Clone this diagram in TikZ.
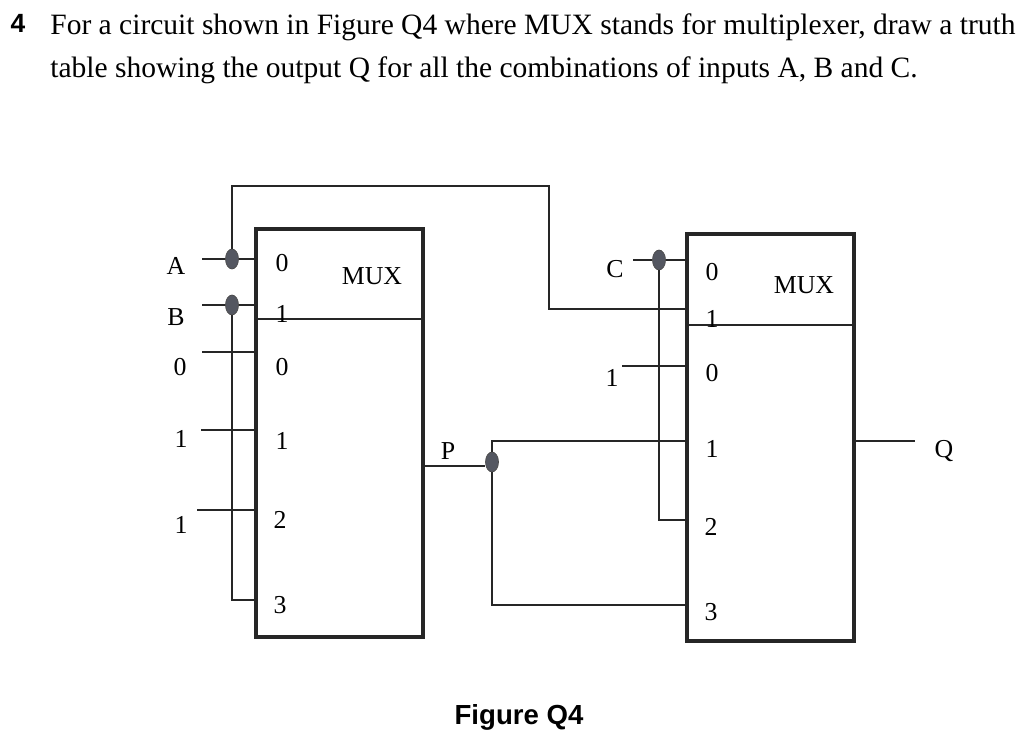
\documentclass[tikz,border=0pt]{standalone}
\usepackage{fontspec}
\setmainfont{Liberation Serif}
\setsansfont{Liberation Sans}
\usetikzlibrary{shapes.geometric}
\definecolor{dotgray}{rgb}{0.33,0.34,0.38}
\tikzset{
  wire/.style={line width=0.8pt,color=black!85},
  muxbox/.style={draw=black!85,line width=2.3pt,rectangle,minimum width=3.34cm,minimum height=8.16cm,outer sep=0pt},
  tap/.style={ellipse,fill=dotgray,draw=black!70,line width=0.4pt,minimum width=0.26cm,minimum height=0.4cm,inner sep=0pt},
  pinlabel/.style={font=\fontsize{14.7}{16}\selectfont,inner sep=0pt},
  headline/.style={anchor=base west,font=\fontsize{16.8}{19}\selectfont,inner sep=0pt}
}
\begin{document}
\begin{tikzpicture}[line cap=butt,line join=miter,x=0.02cm,y=-0.02cm]
\useasboundingbox (0,0) rectangle (1024,749);
% question text
\node[anchor=base,font=\sffamily\bfseries\fontsize{15}{18}\selectfont,inner sep=0pt] (qnum) at (18,33) {4};
\node[headline] (line1) at (50,35) {For a circuit shown in Figure Q4 where MUX stands for multiplexer, draw a truth};
\node[headline] (line2) at (50,78) {table showing the output Q for all the combinations of inputs A, B and C.};
% boxes
\node[muxbox] (muxl) at (339.5,433) {};
\node[muxbox] (muxr) at (770.5,437.5) {};
\coordinate (seplw) at (256,319);
\coordinate (seprw) at (687,325);
\draw[wire] (seplw) -- (seplw -| muxl.east);
\draw[wire] (seprw) -- (seprw -| muxr.east);
% left inputs
\coordinate (inA) at (202,259);
\coordinate (inB) at (202,305);
\coordinate (inz) at (202,352);
\coordinate (ino) at (201,430);
\coordinate (int) at (197,510);
\node[tap] (tapA) at (232,259) {};
\node[tap] (tapB) at (232,305) {};
\coordinate (selAa) at (232,186);
\coordinate (selAb) at (549,186);
\coordinate (selAc) at (549,309);
\coordinate (selBb) at (232,600);
\draw[wire] (inA) -- (tapA) -- (inA -| muxl.west);
\draw[wire] (inB) -- (tapB) -- (inB -| muxl.west);
\draw[wire] (inz) -- (inz -| muxl.west);
\draw[wire] (ino) -- (ino -| muxl.west);
\draw[wire] (int) -- (int -| muxl.west);
\draw[wire] (tapA) -- (selAa) -- (selAb) -- (selAc) -- (selAc -| muxr.west);
\draw[wire] (tapB) -- (selBb) -- (selBb -| muxl.west);
% right inputs
\coordinate (inC) at (633,260);
\coordinate (inr) at (622,366);
\node[tap] (tapC) at (659,260) {};
\node[tap] (tapP) at (492,462) {};
\coordinate (outP) at (423,466);
\coordinate (selCb) at (659,520);
\coordinate (upP) at (492,441);
\coordinate (dnP) at (492,605);
\coordinate (outQ) at (915,441);
\draw[wire] (inC) -- (tapC) -- (inC -| muxr.west);
\draw[wire] (inr) -- (inr -| muxr.west);
\draw[wire] (tapC) -- (selCb) -- (selCb -| muxr.west);
\draw[wire] (outP) -- (outP -| tapP.west);
\draw[wire] (tapP) -- (upP) -- (upP -| muxr.west);
\draw[wire] (tapP) -- (dnP) -- (dnP -| muxr.west);
\draw[wire] (outQ -| muxr.east) -- (outQ);
% labels
\node[pinlabel] (lblA) at (176,266) {A};
\node[pinlabel] (lblB) at (176,317) {B};
\node[pinlabel] (lblz) at (180,367) {0};
\node[pinlabel] (lblo) at (181,439) {1};
\node[pinlabel] (lblt) at (181,525) {1};
\node[pinlabel] (la) at (282,263) {0};
\node[pinlabel] (lb) at (282,314) {1};
\node[pinlabel] (lc) at (282,367) {0};
\node[pinlabel] (ld) at (282,441) {1};
\node[pinlabel] (le) at (280,520) {2};
\node[pinlabel] (lf) at (280,605) {3};
\node[pinlabel] (muxltxt) at (372,276) {MUX};
\node[pinlabel] (lblP) at (448,451) {P};
\node[pinlabel] (lblC) at (615,269) {C};
\node[pinlabel] (lblr) at (612,378) {1};
\node[pinlabel] (ra) at (712,272) {0};
\node[pinlabel] (rb) at (712,319) {1};
\node[pinlabel] (rc) at (712,373) {0};
\node[pinlabel] (rd) at (712,449) {1};
\node[pinlabel] (re) at (711,527) {2};
\node[pinlabel] (rf) at (711,612) {3};
\node[pinlabel] (muxrtxt) at (804,285) {MUX};
\node[pinlabel] (lblQ) at (944,451) {Q};
\node[font=\sffamily\bfseries\fontsize{15.7}{18}\selectfont,inner sep=0pt] (figcap) at (519,717) {Figure Q4};
\end{tikzpicture}
\end{document}
